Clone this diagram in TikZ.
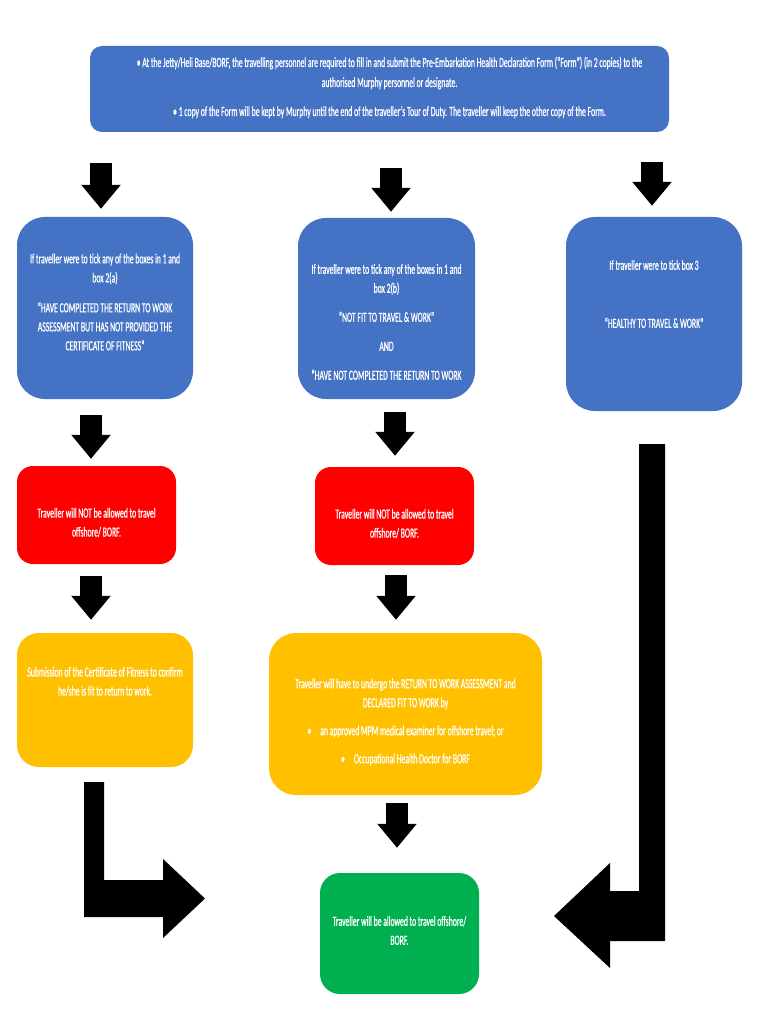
\documentclass[tikz,border=0pt]{standalone}
\usepackage{fontspec}
\setmainfont{Carlito}[FakeStretch=0.55,FakeBold=0.8]
\usetikzlibrary{positioning,arrows.meta}
\definecolor{boxblue}{HTML}{4472C4}
\definecolor{boxred}{HTML}{FF0000}
\definecolor{boxyellow}{HTML}{FFC000}
\definecolor{boxgreen}{HTML}{00B050}

\begin{document}
\begin{tikzpicture}[x=1pt,y=-1pt,
  box/.style={inner sep=0pt,minimum width=#1},
  txt/.style={text=white,align=center,font=\fontsize{14}{19}\selectfont},
  blk/.style={line width=22pt,-{Triangle[width=38pt,length=24pt]}}]
\path[use as bounding box,fill=white] (0,0) rectangle (768,1024);
\node[box=579pt,minimum height=86pt,rounded corners=12pt,fill=boxblue] (top) at (379.5,89) {};
\node[txt,font=\fontsize{14}{20}\selectfont] (toptxt) at ([xshift=10pt,yshift=1.5pt]top.center) {• At the Jetty/Heli Base/BORF, the travelling personnel are required to fill in and submit the Pre-Embarkation Health Declaration Form (“Form”) (in 2 copies) to the\\ authorised Murphy personnel or designate.\\[9pt] • 1 copy of the Form will be kept by Murphy until the end of the traveller’s Tour of Duty. The traveller will keep the other copy of the Form.};
\node[box=176pt,minimum height=182pt,rounded corners=28pt,fill=boxblue] (b1) at (105,308) {};
\node[txt] (b1txt) at ([yshift=6pt]b1.center) {If traveller were to tick any of the boxes in 1 and\\ box 2(a)\\[11pt] “HAVE COMPLETED THE RETURN TO WORK\\ ASSESSMENT BUT HAS NOT PROVIDED THE\\ CERTIFICATE OF FITNESS”};
\node[box=177pt,minimum height=181pt,rounded corners=28pt,fill=boxblue] (b2) at (386.5,308.5) {};
\node[txt] (b2txt) at ([yshift=-13.5pt]b2.center) {If traveller were to tick any of the boxes in 1 and\\ box 2(b)\\[10pt] “NOT FIT TO TRAVEL \& WORK”\\[10pt] AND\\[10pt] “HAVE NOT COMPLETED THE RETURN TO WORK};
\node[box=176pt,minimum height=194pt,rounded corners=29pt,fill=boxblue] (b3) at (654,314) {};
\node[txt] (b3txt) at ([yshift=20pt]b3.center) {If traveller were to tick box 3\\[39pt] “HEALTHY TO TRAVEL \& WORK”};
\node[box=159pt,minimum height=98pt,rounded corners=16pt,fill=boxred] (r1) at (96.5,515) {};
\node[txt] (r1txt) at ([yshift=-7.5pt]r1.center) {Traveller will NOT be allowed to travel\\ offshore/ BORF.};
\node[box=159pt,minimum height=98pt,rounded corners=16pt,fill=boxred] (r2) at (394.5,516) {};
\node[txt] (r2txt) at ([yshift=-7.5pt]r2.center) {Traveller will NOT be allowed to travel\\ offshore/ BORF.};
\node[box=176pt,minimum height=134pt,rounded corners=22pt,fill=boxyellow] (y1) at (105,700) {};
\node[txt] (y1txt) at ([yshift=18.5pt]y1.center) {Submission of the Certificate of Fitness to confirm\\ he/she is fit to return to work.};
\node[box=273pt,minimum height=162pt,rounded corners=27pt,fill=boxyellow] (y2) at (405.5,714) {};
\node[txt] (y2txt) at ([yshift=-8pt]y2.center) {Traveller will have to undergo the RETURN TO WORK ASSESSMENT and\\ DECLARED FIT TO WORK by\\[9pt] •\hspace{9pt}an approved MPM medical examiner for offshore travel; or\\[9pt] •\hspace{9pt}Occupational Health Doctor for BORF};
\node[box=159pt,minimum height=121pt,rounded corners=20pt,fill=boxgreen] (g) at (399.5,933.5) {};
\node[txt] (gtxt) at ([yshift=3pt]g.center) {Traveller will be allowed to travel offshore/\\ BORF.};
\draw[blk] ([xshift=-278.5pt,yshift=-31pt]top.south) -- ([xshift=-4pt,yshift=8pt]b1.north);
\draw[blk] ([xshift=11.5pt,yshift=-36pt]top.south) -- ([xshift=4.5pt,yshift=6pt]b2.north);
\draw[blk] ([xshift=272.5pt,yshift=-30pt]top.south) -- ([xshift=-2pt,yshift=11pt]b3.north);
\draw[blk] ([xshift=-14pt,yshift=-16pt]b1.south) -- ([xshift=-5.5pt,yshift=7pt]r1.north);
\draw[blk] ([xshift=8.5pt,yshift=-13pt]b2.south) -- ([xshift=0.5pt,yshift=11pt]r2.north);
\draw[blk] ([xshift=-5.5pt,yshift=-12pt]r1.south) -- ([xshift=-14pt,yshift=13pt]y1.north);
\draw[blk] ([xshift=1.5pt,yshift=-10pt]r2.south) -- ([xshift=-9.5pt,yshift=13pt]y2.north);
\draw[blk] ([xshift=-8.5pt,yshift=-8pt]y2.south) -- ([xshift=-2.5pt,yshift=25pt]g.north);
\fill (84,782) -- (104,782) -- (104,880) -- (163,880) -- (163,859) -- (205,898.5) -- (163,938) -- (163,917) -- (84,917) -- cycle;
\fill (639,444) -- (665,444) -- (665,941) -- (610,941) -- (610,968) -- (554,916) -- (610,863) -- (610,891) -- (639,891) -- cycle;
\end{tikzpicture}
\end{document}
